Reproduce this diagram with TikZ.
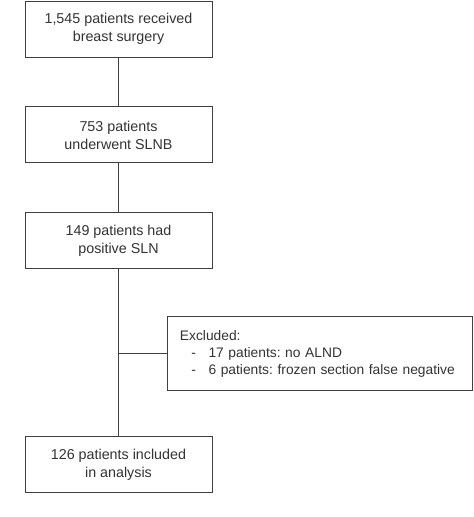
\documentclass[tikz,border=0pt]{standalone}
\usepackage{fontspec}
\setmainfont{Liberation Sans}
\usepackage{tikz}
\usetikzlibrary{positioning}

\newcommand{\exitem}[1]{\mbox{\hspace*{11.5pt}-\hspace{12.5pt}#1}}

\begin{document}
\frenchspacing
\begin{tikzpicture}[
  x=1pt, y=1pt,
  font=\fontsize{14.3}{18}\selectfont,
  box/.style={draw=black!75, line width=0.9pt, minimum width=187pt, minimum height=56pt,
              align=center, text=black!80, inner sep=2pt},
  excl/.style={draw=black!75, line width=0.9pt, minimum width=305pt, minimum height=74pt,
               align=left, text=black!80, inner xsep=12.5pt, text width=280pt,
               font=\fontsize{13.8}{17}\selectfont},
  link/.style={draw=black!75, line width=0.9pt},
]
\useasboundingbox (0,0) rectangle (474,-517);

\node[box] (b1) at (118.5,-29) {1,545 patients received\\breast surgery};
\node[box, below=49pt of b1] (b2) {753 patients\\underwent SLNB};
\node[box, below=49pt of b2] (b3) {149 patients had\\positive SLN};
\node[box, below=167pt of b3] (b4) {126 patients included\\in analysis};

\node[excl, anchor=north west] (ex) at (167,-316) {Excluded:\\
  \exitem{17 patients: no ALND}\\
  \exitem{6 patients: frozen section false negative}};

\coordinate (jn) at (b3.south |- ex.west);

\draw[link] (b1) -- (b2);
\draw[link] (b2) -- (b3);
\draw[link] (b3) -- (b4);
\draw[link] (jn) -- (ex.west);
\end{tikzpicture}
\end{document}
